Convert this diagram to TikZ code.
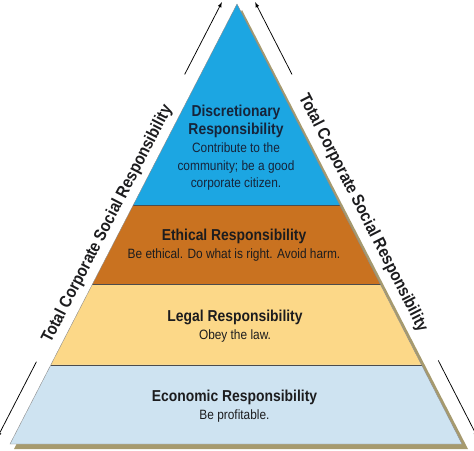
\documentclass[tikz,border=0pt]{standalone}
\usepackage{fontspec}
\setmainfont{Liberation Sans}[FakeStretch=0.88]
\usetikzlibrary{calc}

\definecolor{discblue}{RGB}{28,166,226}
\definecolor{ethorange}{RGB}{201,114,32}
\definecolor{legyellow}{RGB}{252,216,136}
\definecolor{ecoblue}{RGB}{206,227,241}
\definecolor{shadowkhaki}{RGB}{166,154,110}
\definecolor{txtdark}{RGB}{28,28,30}
\definecolor{txtnavy}{RGB}{22,36,58}

\newcommand{\layertitle}[1]{{\fontsize{15.8}{18}\selectfont\bfseries #1}}

\tikzset{
  layertext/.style={align=center,text=txtdark,font=\fontsize{13.5}{17.8}\selectfont},
  sidetext/.style={font=\fontsize{17}{19}\selectfont\bfseries,text=txtdark,sloped},
  sidearrow/.style={-latex,line width=0.75pt},
  boundary/.style={draw=black!70,line width=0.6pt}
}

\begin{document}
\begin{tikzpicture}[x=1pt,y=-1pt]
%
\def\off{16};
\def\ta{0.458};
\def\tb{0.638};
\def\tc{0.820};
%
\useasboundingbox (0,0) rectangle (474,450);
%
\coordinate (A) at (237,4);
\coordinate (BL) at (10,444);
\coordinate (BR) at (462,444);
%
\coordinate (L1) at ($(A)!\ta!(BL)$);
\coordinate (R1) at ($(A)!\ta!(BR)$);
\coordinate (L2) at ($(A)!\tb!(BL)$);
\coordinate (R2) at ($(A)!\tb!(BR)$);
\coordinate (L3) at ($(A)!\tc!(BL)$);
\coordinate (R3) at ($(A)!\tc!(BR)$);
%
% shadow
\fill[shadowkhaki] ($(A)+(5,6)$)--($(BR)+(6,5)$)--($(BL)+(4,5)$)--cycle;
%
\fill[discblue](A)--(R1)--(L1)--cycle;
\fill[ethorange](L1)--(R1)--(R2)--(L2)--cycle;
\fill[legyellow](L2)--(R2)--(R3)--(L3)--cycle;
\fill[ecoblue](L3)--(R3)--(BR)--(BL)--cycle;
%
\draw[boundary](L1)--(R1);
\draw[boundary](L2)--(R2);
\draw[boundary](L3)--(R3);
\draw[draw=black!45,line width=0.4pt](A)--(BR)--(BL)--cycle;
%
\node[layertext,text=txtnavy] (disc) at (236,148)
  {\layertitle{Discretionary}\\\layertitle{Responsibility}\\Contribute to the\\community; be a good\\corporate citizen.};
\node[layertext] (eth) at (234,245)
  {\layertitle{Ethical Responsibility}\\Be ethical. Do what is right. Avoid harm.};
\node[layertext] (leg) at (235,326)
  {\layertitle{Legal Responsibility}\\Obey the law.};
\node[layertext] (eco) at (234.5,406)
  {\layertitle{Economic Responsibility}\\Be profitable.};
%
% left side
\coordinate (LA) at ($(A)+(-\off,0)$);
\coordinate (LB) at ($(BL)+(-\off,0)$);
\path (LA)--(LB) node[sidetext,pos=0.5] (ltext) {Total Corporate Social Responsibility};
\coordinate (la1) at ($(LA)!0.16!(LB)$);
\coordinate (la2) at ($(LA)!-0.004!(LB)$);
\coordinate (lb1) at ($(LA)!0.813!(LB)$);
\coordinate (lb2) at ($(LA)!0.985!(LB)$);
\draw[sidearrow](la1)--(la2);
\draw[sidearrow](lb1)--(lb2);
%
% right side
\coordinate (RA) at ($(A)+(\off+3,0)$);
\coordinate (RB) at ($(BR)+(\off+3,0)$);
\path (RA)--(RB) node[sidetext,pos=0.475] (rtext) {Total Corporate Social Responsibility};
\coordinate (ra1) at ($(RA)!0.16!(RB)$);
\coordinate (ra2) at ($(RA)!-0.004!(RB)$);
\coordinate (rb1) at ($(RA)!0.81!(RB)$);
\coordinate (rb2) at ($(RA)!0.985!(RB)$);
\draw[sidearrow](ra1)--(ra2);
\draw[sidearrow](rb1)--(rb2);
%
\end{tikzpicture}
\end{document}
